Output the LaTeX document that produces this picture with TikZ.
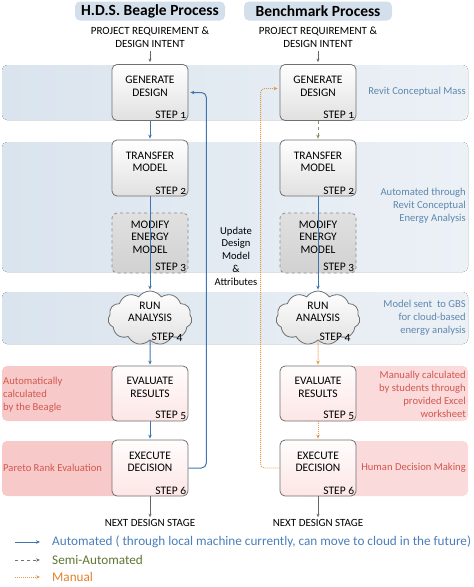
\documentclass[tikz,border=0pt]{standalone}
\usepackage{fontspec}
\setmainfont[Numbers=OldStyle]{Carlito}
\usetikzlibrary{arrows.meta, positioning, shapes.symbols}
\usepackage{xcolor}
\definecolor{bandblueL}{HTML}{DAE4EE}
\definecolor{bandblueR}{HTML}{ECF1F6}
\definecolor{bandredL}{HTML}{F7C9C9}
\definecolor{bandredR}{HTML}{FADADA}
\definecolor{titlefill}{HTML}{D3DFEA}
\definecolor{boxline}{HTML}{707070}
\definecolor{autoblue}{HTML}{3F76B0}
\definecolor{semiolive}{HTML}{8C8C5A}
\definecolor{manorange}{HTML}{E3984A}
\definecolor{noteblue}{HTML}{5E87AE}
\definecolor{notered}{HTML}{D2584F}
\definecolor{legblue}{HTML}{4A7EBB}
\definecolor{legolive}{HTML}{5F7530}
\definecolor{legorange}{HTML}{E27F2B}

\begin{document}
\begin{tikzpicture}[x=1pt, y=-1pt,
  titlebox/.style={rectangle, rounded corners=5pt, fill=titlefill,
                   minimum height=19pt, inner sep=2pt, font=\fontsize{15.5}{17}\selectfont\bfseries},
  reqtext/.style={align=center, inner sep=0pt, font=\fontsize{11}{13}\selectfont},
  stepbox/.style={rectangle, rounded corners=5pt, draw=boxline, line width=0.8pt,
                  minimum width=76pt, minimum height=56pt, top color=white, bottom color=black!12},
  redbox/.style={stepbox, top color=white!85!red!6, bottom color=black!8!red!10},
  dashbox/.style={stepbox, dashed, draw=black!45, top color=black!12, bottom color=black!18},
  cloudbox/.style={cloud, cloud puffs=11, cloud puff arc=110, aspect=1.6, draw=boxline,
                   line width=0.8pt, minimum width=84pt, minimum height=54pt,
                   top color=white, bottom color=black!12},
  boxtext/.style={align=center, inner sep=0pt, yshift=6pt, font=\fontsize{11.5}{12.5}\selectfont},
  steptext/.style={anchor=south east, inner sep=2pt, font=\fontsize{11.5}{12}\selectfont},
  note/.style={inner sep=0pt, font=\fontsize{10.6}{13}\selectfont},
  legtext/.style={anchor=west, inner sep=0pt, font=\fontsize{13.2}{15}\selectfont},
  arw/.style={-{Stealth[length=4pt, width=3.5pt]}, line width=1pt, #1},
  grayarw/.style={-{Stealth[length=3.5pt, width=3pt]}, line width=0.6pt, black!60}
]
\useasboundingbox (0,0) rectangle (474,587);

% === Background bands ===
\fill[rounded corners=5pt, left color=bandblueL, right color=bandblueR] (2,65) rectangle (468,120);
\fill[rounded corners=5pt, left color=bandblueL, right color=bandblueR] (2,142) rectangle (468,272);
\fill[rounded corners=5pt, left color=bandblueL, right color=bandblueR] (2,292) rectangle (468,344);
\fill[rounded corners=5pt, bandredL] (2,366) rectangle (150,421);
\fill[rounded corners=5pt, bandredL] (2,441) rectangle (150,496);
\fill[rounded corners=5pt, bandredR] (300,366) rectangle (468,421);
\fill[rounded corners=5pt, bandredR] (300,441) rectangle (468,496);

% === Titles ===
\node[titlebox, minimum width=150pt] (title1) at (150,11) {H.D.S. Beagle Process};
\node[titlebox, minimum width=148pt] (title2) at (318,11) {Benchmark Process};

\node[reqtext] (req1) at (150,37) {PROJECT REQUIREMENT \&\\DESIGN INTENT};
\node[reqtext] (req2) at (318,37) {PROJECT REQUIREMENT \&\\DESIGN INTENT};

% === Beagle steps ===
\node[stepbox, label={[boxtext]center:{GENERATE\\DESIGN}}, label={[steptext]south east:STEP 1}] (gen1) at (150,92.5) {};
\node[stepbox, label={[boxtext]center:{TRANSFER\\MODEL}}, label={[steptext]south east:STEP 2}] (tra1) at (150,168) {};
\node[dashbox, minimum height=60pt, label={[boxtext]center:{MODIFY\\ENERGY\\MODEL}}, label={[steptext]south east:STEP 3}] (mod1) at (150,243) {};
\node[cloudbox, label={[boxtext]center:{RUN\\ANALYSIS}}, label={[steptext, anchor=south, xshift=17pt, yshift=-3pt]south:STEP 4}] (run1) at (150,318) {};
\node[redbox, minimum height=55pt, label={[boxtext]center:{EVALUATE\\RESULTS}}, label={[steptext]south east:STEP 5}] (eva1) at (150,393.5) {};
\node[redbox, label={[boxtext]center:{EXECUTE\\DECISION}}, label={[steptext]south east:STEP 6}] (exe1) at (150,468) {};
\node[reqtext] (next1) at (150,523) {NEXT DESIGN STAGE};

% === Benchmark steps ===
\node[stepbox, label={[boxtext]center:{GENERATE\\DESIGN}}, label={[steptext]south east:STEP 1}] (gen2) at (318,92.5) {};
\node[stepbox, label={[boxtext]center:{TRANSFER\\MODEL}}, label={[steptext]south east:STEP 2}] (tra2) at (318,168) {};
\node[dashbox, minimum height=60pt, label={[boxtext]center:{MODIFY\\ENERGY\\MODEL}}, label={[steptext]south east:STEP 3}] (mod2) at (318,243) {};
\node[cloudbox, label={[boxtext]center:{RUN\\ANALYSIS}}, label={[steptext, anchor=south, xshift=17pt, yshift=-3pt]south:STEP 4}] (run2) at (318,318) {};
\node[redbox, minimum height=55pt, label={[boxtext]center:{EVALUATE\\RESULTS}}, label={[steptext]south east:STEP 5}] (eva2) at (318,393.5) {};
\node[redbox, label={[boxtext]center:{EXECUTE\\DECISION}}, label={[steptext]south east:STEP 6}] (exe2) at (318,468) {};
\node[reqtext] (next2) at (318,523) {NEXT DESIGN STAGE};

% === Beagle arrows ===
\draw[grayarw, shorten <=4pt, shorten >=2pt] (req1) -- (gen1);
\draw[arw=autoblue, shorten >=1pt] (gen1) -- (tra1);
\draw[arw=autoblue, shorten >=1pt] (tra1.south) -- (run1.north);
\draw[arw=autoblue, shorten >=1pt] (run1) -- (eva1);
\draw[arw=autoblue, shorten >=1pt] (eva1) -- (exe1);
\draw[grayarw, shorten >=2pt] (exe1) -- (next1);
\draw[arw=autoblue, rounded corners=5pt] (exe1.east) -- ++(18,0) |- ([xshift=2pt]gen1.east);
\node[note, align=center, font=\fontsize{10.6}{12.8}\selectfont] (update) at (236,256)
  {Update\\Design\\Model\\\&\\Attributes};

% === Benchmark arrows ===
\draw[grayarw, shorten <=4pt, shorten >=2pt] (req2) -- (gen2);
\draw[arw=semiolive, dashed, shorten >=1pt] (gen2) -- (tra2);
\draw[arw=autoblue, shorten >=1pt] (tra2.south) -- (run2.north);
\draw[arw=manorange, densely dotted, shorten >=1pt] (run2) -- (eva2);
\draw[arw=manorange, densely dotted, shorten >=1pt] (eva2) -- (exe2);
\draw[grayarw, shorten >=2pt] (exe2) -- (next2);
\draw[arw=manorange, densely dotted, line width=0.8pt, rounded corners=4pt] (exe2.west) -- ++(-19,0) |- ([yshift=4pt, xshift=-2pt]gen2.west);

% === Side notes ===
\node[note, anchor=east, noteblue] (n1) at (466,92) {Revit Conceptual Mass};
\node[note, anchor=east, align=right, noteblue] (n2) at (466,206)
  {Automated through\\Revit Conceptual\\Energy Analysis};
\node[note, anchor=east, align=right, noteblue] (n3) at (466,318)
  {Model sent\ \ to GBS\\for cloud-based\\energy analysis};
\node[note, anchor=east, align=right, notered] (n4) at (466,394)
  {Manually calculated\\by students through\\provided Excel\\worksheet};
\node[note, anchor=east, notered] (n5) at (466,468) {Human Decision Making};
\node[note, anchor=west, align=left, notered] (n6) at (3,395)
  {Automatically\\calculated\\by the Beagle};
\node[note, anchor=west, notered] (n7) at (3,468) {Pareto Rank Evaluation};

% === Legend ===
\coordinate (l1a) at (15,542); \coordinate (l1b) at (40,542);
\coordinate (l2a) at (15,560); \coordinate (l2b) at (40,560);
\coordinate (l3a) at (15,577); \coordinate (l3b) at (40,577);
\draw[arw=autoblue] (l1a) -- (l1b);
\draw[arw=black!55, dashed] (l2a) -- (l2b);
\draw[arw=manorange, densely dotted] (l3a) -- (l3b);
\node[legtext, legblue] (leg1) at (52,542)
  {Automated ( through local machine currently, can move to cloud in the future)};
\node[legtext, legolive] (leg2) at (52,560) {Semi-Automated};
\node[legtext, legorange] (leg3) at (52,577) {Manual};

\end{tikzpicture}
\end{document}
